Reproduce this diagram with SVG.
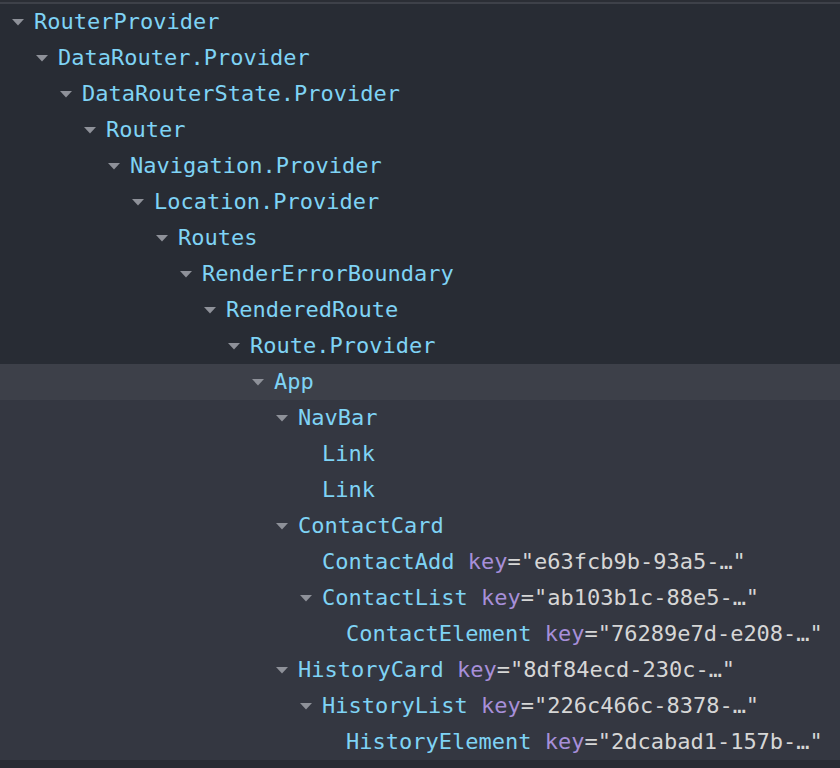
<svg xmlns="http://www.w3.org/2000/svg" width="840" height="768" viewBox="0 0 840 768">
<style>
text{font-family:"DejaVu Sans Mono","Liberation Mono",monospace;font-size:22px;fill:#7fd3f5}
.k{fill:#a78fd9}
.v{fill:#d6d6d6}
.tri{fill:#8e9199}
</style>
<defs>
<path id="tri" d="M0 0 L12 0 L6 6.5 Z"/>
</defs>
<rect x="0" y="0" width="840" height="768" fill="#282c34"/>
<rect x="0" y="0" width="840" height="2" fill="#2b2e35"/>
<rect x="0" y="2" width="840" height="2" fill="#3e4149"/>
<rect x="0" y="400" width="840" height="360" fill="#343741"/>
<rect x="0" y="364" width="840" height="36" fill="#3d4049"/>
<rect x="0" y="760" width="840" height="8" fill="#282b33"/>
<g id="connectors"></g>
<g id="n0"><use href="#tri" class="tri" x="12" y="19"/><text x="34" y="29">RouterProvider</text></g>
<g id="n1"><use href="#tri" class="tri" x="36" y="55"/><text x="58" y="65">DataRouter.Provider</text></g>
<g id="n2"><use href="#tri" class="tri" x="60" y="91"/><text x="82" y="101">DataRouterState.Provider</text></g>
<g id="n3"><use href="#tri" class="tri" x="84" y="127"/><text x="106" y="137">Router</text></g>
<g id="n4"><use href="#tri" class="tri" x="108" y="163"/><text x="130" y="173">Navigation.Provider</text></g>
<g id="n5"><use href="#tri" class="tri" x="132" y="199"/><text x="154" y="209">Location.Provider</text></g>
<g id="n6"><use href="#tri" class="tri" x="156" y="235"/><text x="178" y="245">Routes</text></g>
<g id="n7"><use href="#tri" class="tri" x="180" y="271"/><text x="202" y="281">RenderErrorBoundary</text></g>
<g id="n8"><use href="#tri" class="tri" x="204" y="307"/><text x="226" y="317">RenderedRoute</text></g>
<g id="n9"><use href="#tri" class="tri" x="228" y="343"/><text x="250" y="353">Route.Provider</text></g>
<g id="n10"><use href="#tri" class="tri" x="252" y="379"/><text x="274" y="389">App</text></g>
<g id="n11"><use href="#tri" class="tri" x="276" y="415"/><text x="298" y="425">NavBar</text></g>
<g id="n12"><text x="322" y="461">Link</text></g>
<g id="n13"><text x="322" y="497">Link</text></g>
<g id="n14"><use href="#tri" class="tri" x="276" y="523"/><text x="298" y="533">ContactCard</text></g>
<g id="n15"><text x="322" y="569">ContactAdd <tspan class="k">key</tspan><tspan class="v">="e63fcb9b-93a5-…"</tspan></text></g>
<g id="n16"><use href="#tri" class="tri" x="300" y="595"/><text x="322" y="605">ContactList <tspan class="k">key</tspan><tspan class="v">="ab103b1c-88e5-…"</tspan></text></g>
<g id="n17"><text x="346" y="641">ContactElement <tspan class="k">key</tspan><tspan class="v">="76289e7d-e208-…"</tspan></text></g>
<g id="n18"><use href="#tri" class="tri" x="276" y="667"/><text x="298" y="677">HistoryCard <tspan class="k">key</tspan><tspan class="v">="8df84ecd-230c-…"</tspan></text></g>
<g id="n19"><use href="#tri" class="tri" x="300" y="703"/><text x="322" y="713">HistoryList <tspan class="k">key</tspan><tspan class="v">="226c466c-8378-…"</tspan></text></g>
<g id="n20"><text x="346" y="749">HistoryElement <tspan class="k">key</tspan><tspan class="v">="2dcabad1-157b-…"</tspan></text></g>
</svg>
